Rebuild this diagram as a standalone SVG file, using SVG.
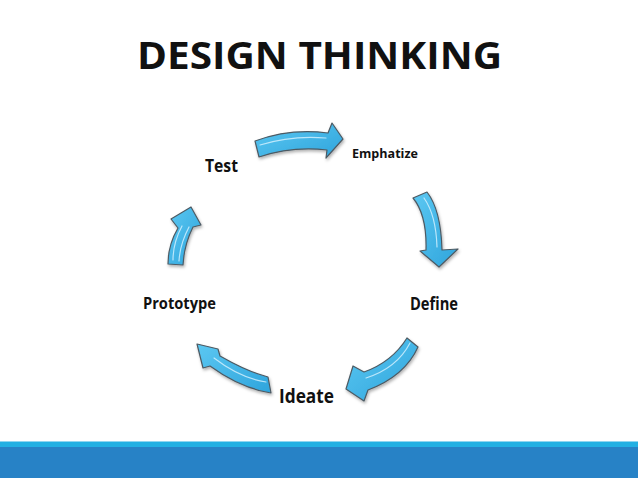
<svg xmlns="http://www.w3.org/2000/svg" width="638" height="478" viewBox="0 0 638 478">
<defs>
<linearGradient id="g" x1="0" y1="0" x2="1" y2="1">
<stop offset="0" stop-color="#5cc8f2"/>
<stop offset="1" stop-color="#2ea4dc"/>
</linearGradient>
<filter id="sh" x="-20%" y="-20%" width="140%" height="140%">
<feDropShadow dx="1" dy="2" stdDeviation="1.5" flood-color="#000" flood-opacity="0.3"/>
</filter>
</defs>
<style>
.lbl{font-family:"Open Sans","Liberation Sans",sans-serif;font-weight:bold;fill:#111}
.arr{fill:url(#g);stroke:#4d5a63;stroke-width:1.2;stroke-linejoin:round;filter:url(#sh)}
.hl{fill:none;stroke:#d8f3ff;stroke-width:1.2;stroke-linecap:round;opacity:0.8}
</style>
<rect width="638" height="478" fill="#fff"/>
<text class="lbl" x="137" y="69" font-size="38" textLength="365" lengthAdjust="spacingAndGlyphs">DESIGN THINKING</text>
<g id="connectors">
<g id="arrow-emphatize">
<path class="arr" d="M255,141 Q290,128 328,133 L332,123 L343,139 L326,158 L327,150 Q292,146 259,157 Z"/>
<path class="hl" d="M260,145 Q292,135 326,138"/>
</g>
<g id="arrow-define">
<path class="arr" d="M413,198 Q427,215 426,250 L420,251 L439,267 L458,249 L442,250 Q441,210 427,192 Z"/>
<path class="hl" d="M424,198 Q436,215 437,247"/>
</g>
<g id="arrow-ideate">
<path class="arr" d="M407,338 Q392,362 364,372 L353,366 L346,389 L364,401 L368,390 Q405,376 418,347 Z"/>
<path class="hl" d="M410,343 Q397,368 366,378"/>
</g>
<g id="arrow-prototype">
<path class="arr" d="M271,393 Q240,388 210,366 L203,368 L197,344 L218,349 L220,356 Q248,372 268,377 Z"/>
<path class="hl" d="M266,382 Q240,378 214,358"/>
</g>
<g id="arrow-test">
<path class="arr" d="M168,264 Q168,245 178,228 L171,219 L191,207 L201,225 L193,227 Q184,245 183,265 Z"/>
<path class="hl" d="M173,260 Q173,243 182,226"/>
<path class="hl" d="M179,261 Q180,244 189,227"/>
</g>
</g>
<g id="node-emphatize"><text class="lbl" x="352" y="158" font-size="13" textLength="66" lengthAdjust="spacingAndGlyphs">Emphatize</text></g>
<g id="node-define"><text class="lbl" x="410" y="310" font-size="17" textLength="48" lengthAdjust="spacingAndGlyphs">Define</text></g>
<g id="node-ideate"><text class="lbl" x="279" y="403" font-size="20" textLength="55" lengthAdjust="spacingAndGlyphs">Ideate</text></g>
<g id="node-prototype"><text class="lbl" x="143" y="309" font-size="16" textLength="73" lengthAdjust="spacingAndGlyphs">Prototype</text></g>
<g id="node-test"><text class="lbl" x="205" y="172" font-size="18" textLength="33" lengthAdjust="spacingAndGlyphs">Test</text></g>
<g id="footer">
<rect x="0" y="441" width="638" height="6" fill="#22b0e3"/>
<rect x="0" y="441" width="638" height="1" fill="#8fd6f0"/>
<rect x="0" y="447" width="638" height="31" fill="#2782c6"/>
</g>
</svg>
